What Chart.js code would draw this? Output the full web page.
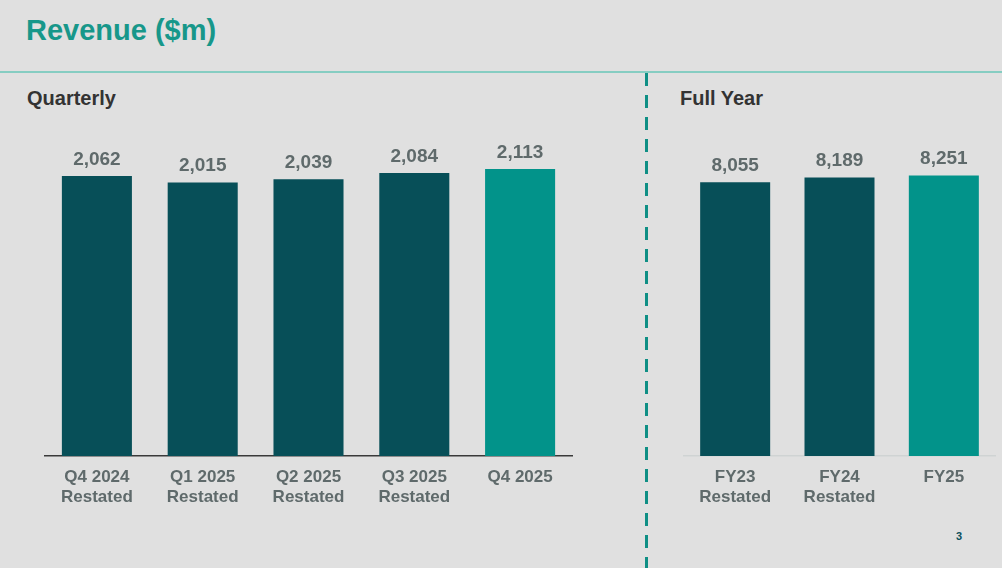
<!DOCTYPE html>
<html>
<head>
<meta charset="utf-8">
<script src="https://cdn.jsdelivr.net/npm/chart.js@4"></script>
<style>
  html, body { margin: 0; padding: 0; }
  body {
    width: 1002px; height: 568px; overflow: hidden; position: relative;
    background: #e0e0e0; font-family: "Liberation Sans", Arial, sans-serif;
  }
  .title { position: absolute; left: 26px; top: 12px; font-size: 29px; font-weight: bold; color: #17978a; line-height: 36px; }
  .rule { position: absolute; left: 0; top: 71px; width: 1002px; height: 2px; background: #86cdc2; }
  .divider {
    position: absolute; left: 645px; top: 73px; width: 3px; height: 495px;
    background: repeating-linear-gradient(to bottom, #0f8f85 0 13px, transparent 13px 22px);
  }
  .sub { position: absolute; font-size: 20px; font-weight: bold; color: #333; line-height: 24px; }
  .page { position: absolute; left: 956px; top: 530px; font-size: 11px; font-weight: bold; color: #0b4f5c; }
  .box { position: absolute; }
</style>
</head>
<body>
<div class="title">Revenue ($m)</div>
<div class="rule"></div>
<div class="divider"></div>
<div class="sub" style="left:27px; top:86px;">Quarterly</div>
<div class="sub" style="left:680px; top:86px;">Full Year</div>
<div class="page">3</div>

<div class="box" style="left:44px; top:103px; width:529px; height:417px;"><canvas id="quarterly"></canvas></div>
<div class="box" style="left:683px; top:116px; width:313px; height:404px;"><canvas id="fullYear"></canvas></div>

<script>
// ── Data ─────────────────────────────────────────────────────────
const quarterLabels = [['Q4 2024', 'Restated'], ['Q1 2025', 'Restated'], ['Q2 2025', 'Restated'], ['Q3 2025', 'Restated'], ['Q4 2025']];
const quarterRevenue = [2062, 2015, 2039, 2084, 2113];

const yearLabels = [['FY23', 'Restated'], ['FY24', 'Restated'], ['FY25']];
const yearRevenue = [8055, 8189, 8251];

const DARK = '#074f58';
const BRIGHT = '#02938a';

Chart.defaults.font.family = '"Liberation Sans", Arial, sans-serif';

// ── Value labels above bars ──────────────────────────────────────
const valueLabels = {
    id: 'valueLabels',
    afterDatasetsDraw(chart) {
        const ctx = chart.ctx;
        const meta = chart.getDatasetMeta(0);
        const data = chart.data.datasets[0].data;
        ctx.save();
        ctx.font = 'bold 19px "Liberation Sans", Arial, sans-serif';
        ctx.fillStyle = '#5f6a6b';
        ctx.textAlign = 'center';
        ctx.textBaseline = 'bottom';
        meta.data.forEach((bar, i) => {
            ctx.fillText(data[i].toLocaleString('en-US'), bar.x, bar.y - 7);
        });
        ctx.restore();
    },
};

function makeChart(canvas, labels, values, yMax, barPct, axisColor) {
    const colors = values.map((v, i) => i === values.length - 1 ? BRIGHT : DARK);
    return new Chart(canvas, {
        type: 'bar',
        plugins: [valueLabels],
        data: {
            labels,
            datasets: [{
                data: values,
                backgroundColor: colors,
                borderWidth: 0,
                barPercentage: barPct,
                categoryPercentage: 1,
            }],
        },
        options: {
            responsive: true,
            maintainAspectRatio: false,
            animation: false,
            layout: { padding: 0 },
            plugins: { legend: { display: false }, tooltip: { enabled: false } },
            scales: {
                y: { display: false, min: 0, max: yMax },
                x: {
                    grid: { display: false, drawTicks: false },
                    border: { display: true, color: axisColor, width: 1.5 },
                    ticks: {
                        color: '#5f6a6b',
                        font: { size: 17, weight: 'bold', lineHeight: 1.2 },
                        padding: 11,
                        maxRotation: 0,
                        autoSkip: false,
                    },
                    afterFit: (scale) => { scale.height = 64; },
                },
            },
        },
    });
}

makeChart(document.getElementById('quarterly'), quarterLabels, quarterRevenue, 2600, 0.662, '#3a3a3a');
makeChart(document.getElementById('fullYear'), yearLabels, yearRevenue, 10000, 0.671, '#cfd3d3');
</script>
</body>
</html>
